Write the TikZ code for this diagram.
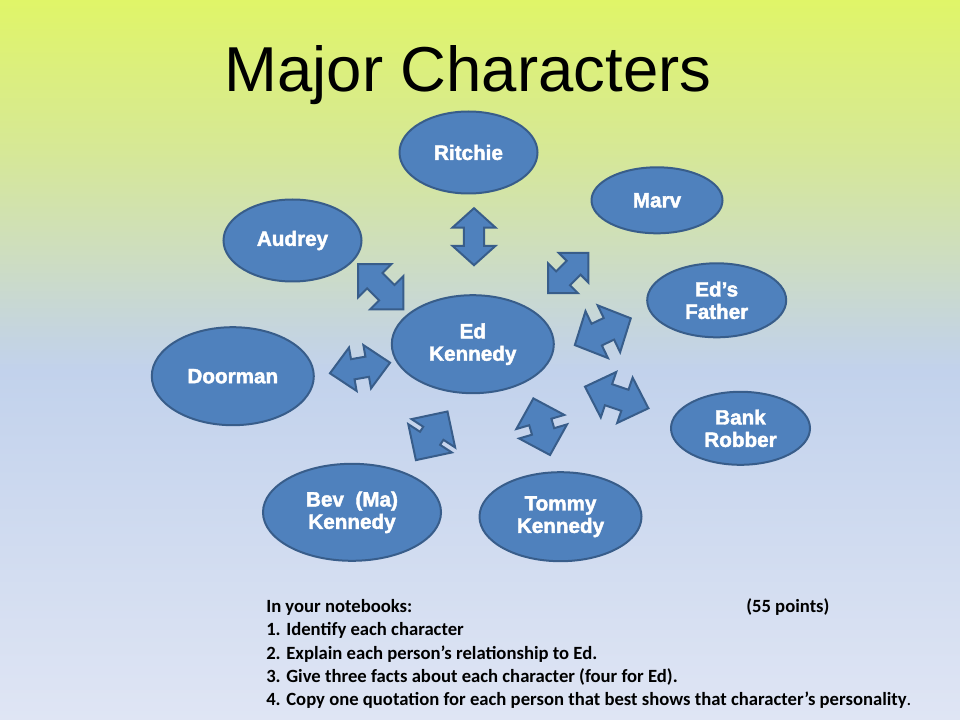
\documentclass[tikz,border=0pt]{standalone}
\usepackage{fontspec}
\setmainfont{Liberation Sans}
\newfontfamily\heavyfont{Liberation Sans Bold}[FakeBold=2]
\newfontfamily\notefont{Carlito}
\usetikzlibrary{shapes.geometric,shapes.arrows}
\definecolor{shapefill}{HTML}{4F81BD}
\definecolor{shapeline}{HTML}{385D8A}
\definecolor{bgA}{RGB}{224,245,104}
\definecolor{bgB}{RGB}{214,232,150}
\definecolor{bgC}{RGB}{206,222,190}
\definecolor{bgD}{RGB}{197,213,222}
\definecolor{bgE}{RGB}{194,210,236}
\definecolor{bgF}{RGB}{223,229,244}
\pgfdeclareverticalshading{slidebg}{100bp}{color(0bp)=(bgF); color(25bp)=(bgF); color(49.3bp)=(bgE); color(52.1bp)=(bgD); color(57.6bp)=(bgC); color(64.6bp)=(bgB); color(75bp)=(bgA); color(100bp)=(bgA)}
\tikzset{
  charnode/.style={ellipse, draw=shapeline, fill=shapefill, line width=1.5pt, inner sep=0pt,
    text=white, align=center, font=\heavyfont\fontsize{15.5}{16.8}\selectfont},
  esize/.style 2 args={minimum width=#1*0.75pt, minimum height=#2*0.75pt},
  linkarrow/.style={double arrow, draw=shapeline, fill=shapefill, line width=1.5pt,
    inner xsep=0pt, outer sep=0pt},
  arrowgeom/.style n args={4}{minimum height=#1*0.75pt, minimum width=#2*0.75pt,
    inner ysep=0.22*#2*0.75pt, double arrow head extend=0.28*#2*0.75pt,
    double arrow tip angle=#3, rotate=#4},
  noteline/.style={anchor=base west, inner sep=0pt, font=\notefont\bfseries\fontsize{14}{17}\selectfont},
}
\begin{document}
\begin{tikzpicture}[x=0.75pt,y=-0.75pt]
\useasboundingbox (0,0) rectangle (960,720);
\fill[shading=slidebg] (0,0) rectangle (960,720);

\node[anchor=base, inner sep=0pt, font=\fontsize{47.6}{57}\selectfont] (title) at (468,92) {Major Characters};

% characters
\node[charnode, esize={138}{82}] (ritchie) at (468.5,152.5) {Ritchie};
\node[charnode, esize={138}{82}] (audrey) at (292.5,240.5) {Audrey};
\node[charnode, esize={131}{66}] (marv) at (657,200.3) {Marv};
\node[charnode, esize={139}{74}] (father) at (716.7,300.3) {Ed’s\\Father};
\node[charnode, esize={139}{73}] (robber) at (740.5,428.3) {Bank\\Robber};
\node[charnode, esize={162}{98}] (ed) at (472.8,344.2) {Ed\\Kennedy};
\node[charnode, esize={162}{98}] (doorman) at (232.8,376.2) {Doorman};
\node[charnode, esize={178}{97}] (bev) at (352,512.3) {Bev~~(Ma)\\Kennedy};
\node[charnode, esize={162}{89}] (tommy) at (560.5,516.7) {Tommy\\Kennedy};

% double arrows
\node[linkarrow, arrowgeom={57}{41}{96}{90}] (arR) at (474,236.7) {};
\node[linkarrow, arrowgeom={64}{45}{90}{-45}] (arA) at (380.8,286.7) {};
\node[linkarrow, arrowgeom={57}{40}{90}{45}] (arM) at (568.3,273) {};
\node[linkarrow, arrowgeom={61}{42}{87}{10}] (arD) at (360,368) {};
\node[linkarrow, arrowgeom={62}{50}{94}{25.6}] (arF) at (602.8,331.7) {};
\node[linkarrow, arrowgeom={67}{46}{88}{-18.8}] (arB) at (616.7,397.5) {};
\node[linkarrow, arrowgeom={59}{48}{91}{-73.6}] (arT) at (541.7,426.7) {};
\node[linkarrow, arrowgeom={58}{50}{90}{57}] (arV) at (431.7,435.8) {};

% notes
\node[noteline] (n0) at (266,612) {In your notebooks:};
\node[noteline] (pts) at (746,612) {(55 points)};
\node[noteline] (n1) at (266,635.5) {1. Identify each character};
\node[noteline] (n2) at (266,659) {2. Explain each person’s relationship to Ed.};
\node[noteline] (n3) at (266,682) {3. Give three facts about each character (four for Ed).};
\node[noteline] (n4) at (266,705.5) {4. Copy one quotation for each person that best shows that character’s personality\textmd{.}};
\end{tikzpicture}
\end{document}
